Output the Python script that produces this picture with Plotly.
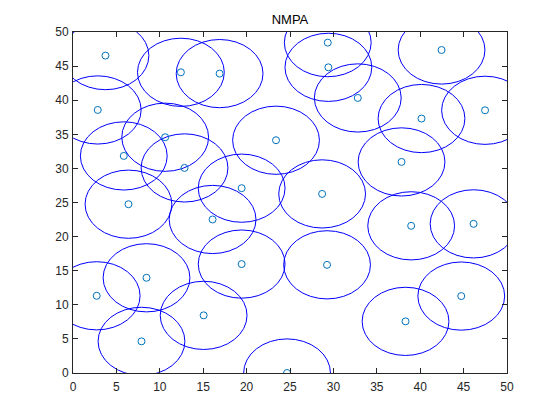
import plotly.graph_objects as go

# posicoes dos nos
node_x = [3.74, 2.85, 12.43, 16.89, 5.85, 10.62, 12.85, 19.43, 23.39, 29.35,
          29.42, 32.81, 42.46, 40.15, 47.47, 37.85, 28.70, 6.39, 16.08, 19.43,
          24.66, 38.96, 46.15, 29.27, 44.73, 38.31, 8.47, 2.73, 7.89, 15.05]
node_y = [46.54, 38.57, 44.09, 43.90, 31.83, 34.57, 30.07, 27.10, 34.13, 48.44,
          44.82, 40.33, 47.36, 37.31, 38.52, 30.95, 26.26, 24.75, 22.51, 15.97,
          0.0, 21.58, 21.87, 15.86, 11.28, 7.57, 13.96, 11.32, 4.64, 8.45]
raio = 5  # raio de cobertura

tick_vals = [0, 5, 10, 15, 20, 25, 30, 35, 40, 45, 50]

fig = go.Figure()

# circulos de cobertura
for cx, cy in zip(node_x, node_y):
    fig.add_shape(type="circle", xref="x", yref="y",
                  x0=cx - raio, x1=cx + raio, y0=cy - raio, y1=cy + raio,
                  line=dict(color="#0000FF", width=1), layer="below")

fig.add_trace(go.Scatter(
    x=node_x, y=node_y, mode="markers",
    marker=dict(symbol="circle-open", size=7, color="#0072BD", line=dict(width=1)),
    showlegend=False
))

eixo = dict(
    range=[0, 50], tickvals=tick_vals, ticks="inside", ticklen=5,
    tickcolor="#262626", showline=True, linecolor="#262626", linewidth=1,
    mirror="ticks", showgrid=False, zeroline=False,
    tickfont=dict(family="Liberation Sans, Arial", size=12, color="#262626"),
)

# a pagina tem margem de 8px no body, por isso 552x412
fig.update_layout(
    width=552, height=412,
    margin=dict(l=65, r=53, t=24, b=47),
    paper_bgcolor="white", plot_bgcolor="white",
    title=dict(text="NMPA", x=0.5, xref="paper", xanchor="center",
               y=0.971, yanchor="middle",
               font=dict(family="Liberation Sans, Arial", size=13, color="#000000")),
    xaxis=dict(eixo, ticklabelstandoff=3),
    yaxis=dict(eixo, ticklabelstandoff=1),
)

fig.write_html("out.html")
